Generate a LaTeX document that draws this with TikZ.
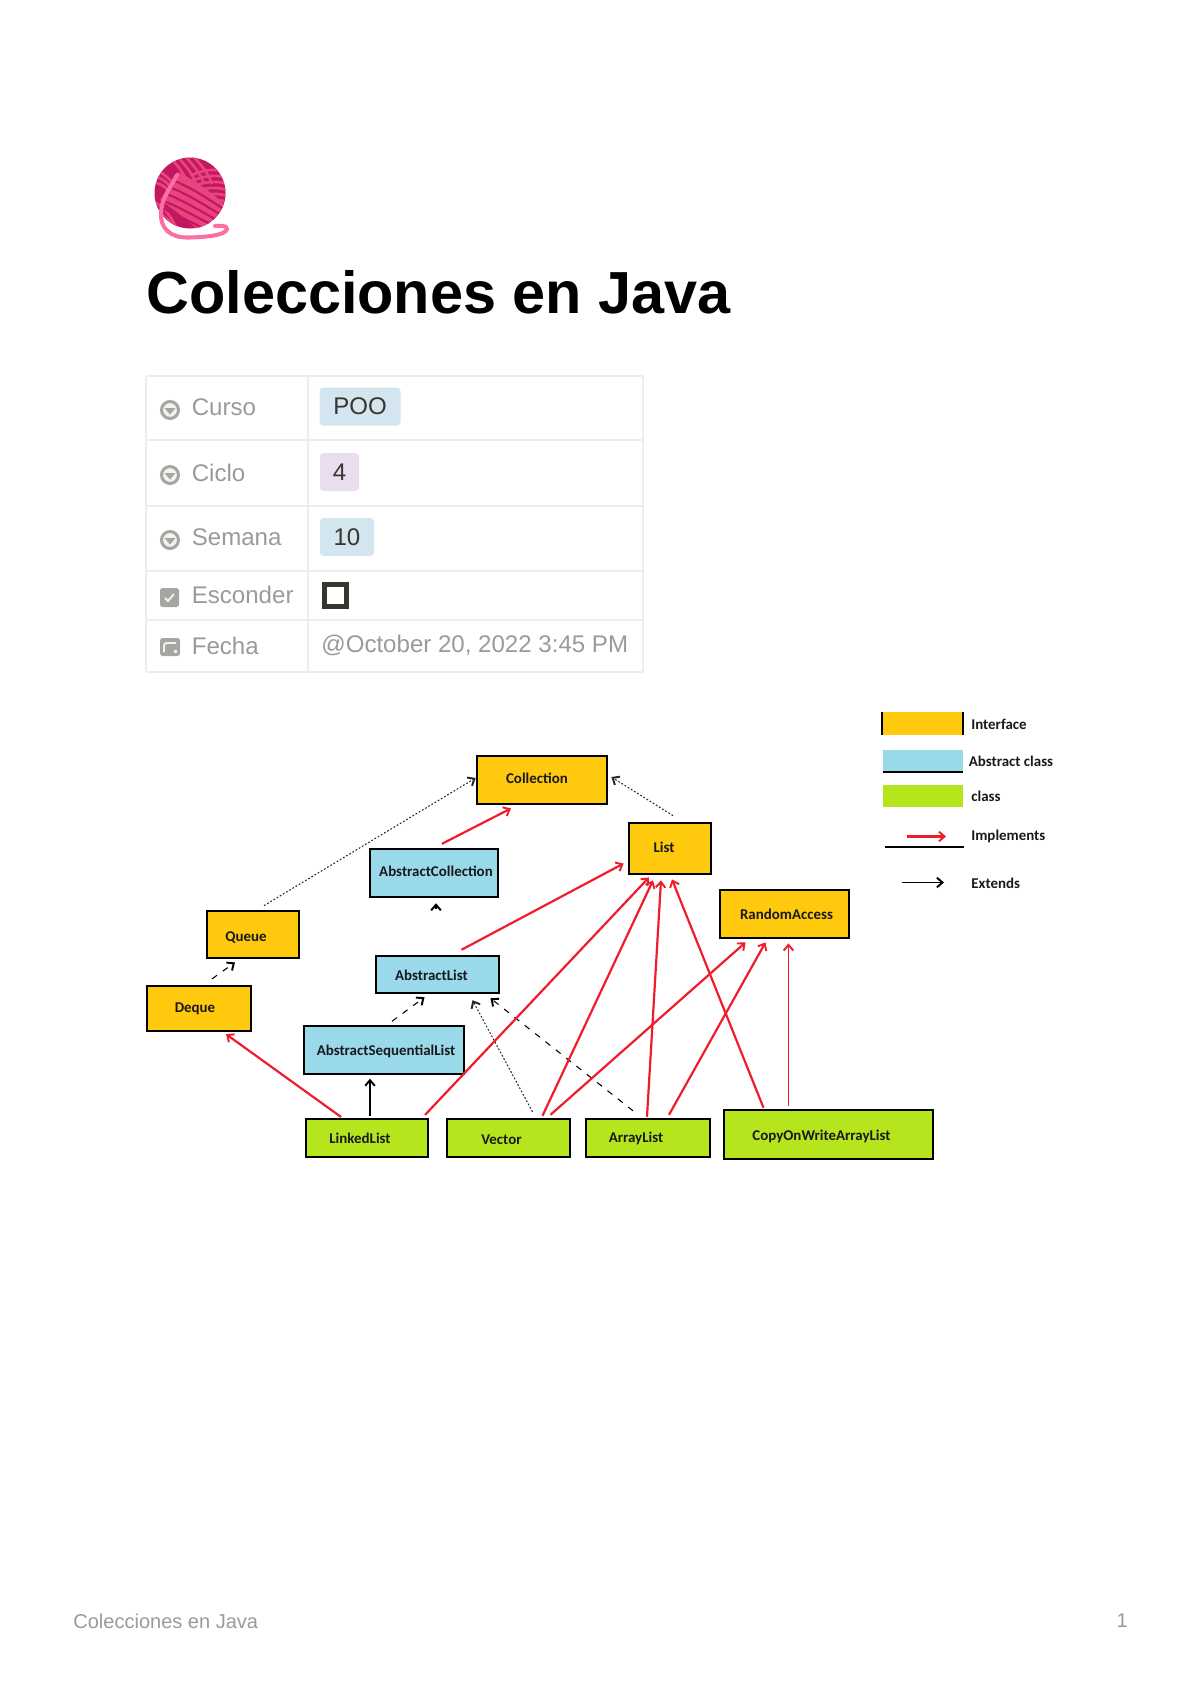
\documentclass[tikz,border=0pt]{standalone}
\usepackage{fontspec}
\setmainfont{Liberation Sans}
\newfontfamily\carlito{Carlito}
\usepackage{tikz}
\usetikzlibrary{calc,arrows.meta}
\newlength\pxu
\setlength\pxu{0.569pt}
\newcommand{\nudgedtext}[2]{\raisebox{#1\pxu}[\height][\depth]{#2}}
\definecolor{ifaceorange}{HTML}{FFC90E}
\definecolor{absblue}{HTML}{99D9EA}
\definecolor{classgreen}{HTML}{B5E61D}
\definecolor{implred}{HTML}{F01C2C}
\definecolor{tablegray}{HTML}{EDEDEB}
\definecolor{textgray}{HTML}{9B9A97}
\definecolor{icongray}{HTML}{A6A5A1}
\definecolor{pillblue}{HTML}{D3E5EF}
\definecolor{pillpurple}{HTML}{E8DEEE}
\definecolor{inkblack}{HTML}{37352F}
\definecolor{yarnbase}{HTML}{C2185F}
\definecolor{yarnmid}{HTML}{E8447F}
\definecolor{yarnlight}{HTML}{FB6FA2}
\tikzset{
  sized/.style 2 args={minimum width=#1*0.02cm, minimum height=#2*0.02cm, inner sep=0pt},
  classbox/.style={draw=black, font=\carlito\bfseries\fontsize{8.5}{10}\selectfont, text=black!90},
  ifacebox/.style={classbox, fill=ifaceorange, line width=1.6pt},
  absbox/.style={classbox, fill=absblue, line width=1pt},
  concbox/.style={classbox, fill=classgreen, line width=1.2pt},
  legendtext/.style={anchor=west, inner sep=0pt, font=\carlito\bfseries\fontsize{8.5}{10}\selectfont, text=black!90},
  tip/.style={-{Straight Barb[length=3.2pt,width=5.5pt,line width=1.1pt]}},
  implements/.style={tip, draw=implred, line width=1.25pt},
  extends/.style={tip, draw=black, line width=.7pt},
  extendsdash/.style={extends, line width=.6pt, dash pattern=on 3.5pt off 4pt},
  extendsdot/.style={extends, line width=.6pt, draw=black!85, dash pattern=on 1pt off 1.1pt},
  rowlabel/.style={anchor=west, inner sep=0pt, text=textgray, font=\fontsize{13.7}{16}\selectfont},
  pill/.style={rounded corners=2pt, inner sep=0pt, text=inkblack, font=\fontsize{13.7}{16}\selectfont},
  tablerule/.style={draw=tablegray, line width=1pt},
  selecticon/.style={draw=icongray, fill=white!85!icongray, line width=1.7pt},
  strand/.style={draw=yarnmid, line width=1.5pt}
}
\begin{document}
\begin{tikzpicture}[x=0.02cm,y=-0.02cm]
  \useasboundingbox (0,0) rectangle (1200,1698);
  % yarn ball
  \fill[yarnbase] (190,193) circle (35.5);
  \begin{scope}
    \clip (190,193) circle (35.5);
    \foreach \d in {0,6,...,30}
      \draw[strand] (192,175+\d) .. controls (203,170+\d) and (215,168+\d) .. (228,172+\d);
    \foreach \d in {0,8,16,24}
      \draw[strand] (168+\d,155) .. controls (176+\d,164) and (184+\d,172) .. (188+\d,184);
    \foreach \d in {0,6,12}
      \draw[strand] (154,170+\d) .. controls (162,172+\d) and (170,178+\d) .. (174,186+\d);
    \foreach \d in {0,8,16}
      \draw[strand] (150,200+\d) .. controls (160,204+\d) and (170,212+\d) .. (178,232);
    \fill[yarnmid] (178,172) .. controls (195,180) and (215,195) .. (226,206)
      -- (200,232) .. controls (190,222) and (175,210) .. (160,200) -- cycle;
    \foreach \d in {0,7,14,21,28}
      \draw[yarnbase, line width=1.2pt] (172-\d/2.5,180+\d) .. controls (188-\d/2.5,186+\d) and (204-\d/2.5,196+\d) .. (222-\d/2.5,208+\d/1.2);
  \end{scope}
  \draw[yarnlight, line width=2.3pt, line cap=round]
    (177,175) .. controls (170,188) and (161,200) .. (161,213)
    .. controls (160,228) and (170,237.5) .. (187,237.5)
    .. controls (200,237.5) and (226,236) .. (227,229)
    .. controls (227,225) and (220,226) .. (215,226);
  % title
  \node[anchor=base west, inner sep=0pt, font=\bfseries\fontsize{33.8}{40}\selectfont] (title) at (146,313) {Colecciones en Java};
  % property table
  \foreach \y in {376,440,506,571,620,672}
    \draw[tablerule] (146,\y) -- (643,\y);
  \foreach \x in {146,308,643}
    \draw[tablerule] (\x,376) -- (\x,672);
  \foreach \y/\name in {408/Curso,473/Ciclo,538/Semana,595/Esconder,646/Fecha}
    \node[rowlabel] (lbl\name) at (191.5,\y-.5) {\name};
  \foreach \y in {410,475,540} {
    \draw[selecticon] (170,\y) circle (8.5);
    \fill[icongray] (164.5,\y-2) -- (175.5,\y-2) -- (170,\y+4.5) -- cycle;
  }
  \fill[icongray, rounded corners=1.5pt] (160,588) rectangle (179,607);
  \draw[white!85!icongray, line width=1.1pt] (165,598) -- (168,601) -- (174,594);
  \fill[icongray, rounded corners=1.5pt] (160,638) rectangle (180,656);
  \draw[white!85!icongray, line width=1.1pt] (164,652) -- (164,646) .. controls (164,644) and (165,643) .. (167,643) -- (176,643);
  \fill[white!85!icongray] (174,650) rectangle (177,653);
  \node[pill, fill=pillblue, sized={81}{38}] (curso) at (360,406.5) {POO};
  \node[pill, fill=pillpurple, sized={39}{38}] (ciclo) at (339.5,472) {4};
  \node[pill, fill=pillblue, sized={54}{38}] (semana) at (347,537) {10};
  \node[draw=inkblack, line width=2.5pt, sized={22}{22}] (esconder) at (335.5,595.5) {};
  \node[rowlabel] (fecha) at (321,645.5) {@October 20, 2022 3:45 PM};
  % class diagram
  \node[ifacebox, sized={130}{48}] (Collection) at (542,780) {\nudgedtext{2}{Collection\kern10\pxu}};
  \node[absbox, line width=1.4pt, sized={128}{48}] (AbstractCollection) at (434,873) {\nudgedtext{2}{\kern4\pxu AbstractCollection}};
  \node[ifacebox, sized={92}{47}] (Queue) at (253,934.5) {\nudgedtext{-3}{Queue\kern14\pxu}};
  \node[absbox, line width=1.4pt, sized={123}{37}] (AbstractList) at (437.5,974.5) {\nudgedtext{-1}{AbstractList\kern12\pxu}};
  \node[ifacebox, line width=1.3pt, sized={104}{45}] (Deque) at (199,1008.5) {Deque\kern8\pxu};
  \node[absbox, line width=.8pt, sized={160}{48}] (AbstractSequentialList) at (384,1050) {\nudgedtext{-1}{\kern4\pxu AbstractSequentialList}};
  \node[concbox, sized={122}{38}] (LinkedList) at (367,1138) {LinkedList\kern14\pxu};
  \node[concbox, line width=1.4pt, sized={123}{38}] (Vector) at (508.5,1138) {\nudgedtext{-2}{Vector\kern14\pxu}};
  \node[concbox, line width=1.4pt, sized={124}{38}] (ArrayList) at (648,1138) {ArrayList\kern24\pxu};
  \node[concbox, line width=1.4pt, sized={209}{49}] (CopyOnWriteArrayList) at (828.5,1134.5) {\nudgedtext{-2}{CopyOnWriteArrayList\kern14\pxu}};
  \node[ifacebox, sized={82}{51}] (List) at (670,848.5) {\nudgedtext{1}{List\kern12\pxu}};
  \node[ifacebox, sized={129}{48}] (RandomAccess) at (784.5,914) {\kern4\pxu RandomAccess};
  % extends
  \draw[extendsdot] ($(Queue.north)+(11,-4)$) -- ($(Collection.west)+(0,-2)$);
  \draw[extendsdot] ($(List.north)+(3,-6)$) -- ($(Collection.east)+(3,-3)$);
  \draw[extendsdash] ($(Deque.north)+(13,-6)$) -- ($(Queue.south)+(-18,3)$);
  \draw[extendsdash] ($(AbstractSequentialList.north)+(8,-4)$) -- ($(AbstractList.south)+(-13,3)$);
  \draw[extends] ($(AbstractCollection.south)+(2,11)$) -- ($(AbstractCollection.south)+(2,5)$);
  \draw[extends] ($(LinkedList.north)+(3,-2)$) -- ($(AbstractSequentialList.south)+(-14,4)$);
  \draw[extendsdot] ($(Vector.north)+(24,-6)$) -- ($(AbstractList.south)+(35,6)$);
  \draw[extendsdash] ($(ArrayList.north)+(-15,-7)$) -- ($(AbstractList.south)+(53,4)$);
  % implements
  \draw[implements] ($(AbstractCollection.north)+(8,-4)$) -- ($(Collection.south)+(-31,3)$);
  \draw[implements] ($(AbstractList.north)+(24,-5)$) -- ($(List.west)+(-4,15)$);
  \draw[implements] ($(LinkedList.north)+(-26,-1)$) -- ($(Deque.south)+(27,2)$);
  \draw[implements] ($(LinkedList.north)+(58,-3)$) -- ($(List.south)+(-21,2)$);
  \draw[implements] ($(Vector.north)+(34,-2)$) -- ($(List.south)+(-17,5)$);
  \draw[implements] ($(Vector.north)+(42,-3)$) -- ($(RandomAccess.south)+(-39,3)$);
  \draw[implements] ($(ArrayList.north)+(-1,-1)$) -- ($(List.south)+(-9,5)$);
  \draw[implements] ($(ArrayList.north)+(21,-3)$) -- ($(RandomAccess.south)+(-19,3)$);
  \draw[implements] ($(CopyOnWriteArrayList.north)+(-65,-1)$) -- ($(List.south)+(2,4)$);
  \draw[implements, line width=.8pt] ($(CopyOnWriteArrayList.north)+(-40,-3)$) -- ($(RandomAccess.south)+(4,4)$);
  % legend
  \node[fill=ifaceorange, sized={81}{23}] (keyInterface) at (922.5,723.5) {};
  \draw[line width=1pt] (keyInterface.north west) -- (keyInterface.south west);
  \draw[line width=1pt] (keyInterface.north east) -- (keyInterface.south east);
  \node[fill=absblue, sized={80}{22}] (keyAbstract) at (923,761) {};
  \draw[line width=1pt] (keyAbstract.south west) -- (keyAbstract.south east);
  \node[fill=classgreen, sized={80}{22}] (keyClass) at (923,796) {};
  \node[legendtext] (txtInterface) at (971,724.5) {Interface};
  \node[legendtext] (txtAbstract) at (968.5,761.5) {Abstract class};
  \node[legendtext] (txtClass) at (971,796) {class};
  \node[legendtext] (txtImplements) at (971,836.5) {Implements};
  \node[legendtext] (txtExtends) at (971,883) {Extends};
  \coordinate (implFrom) at (907,836.5);
  \coordinate (implTo) at (946,836.5);
  \coordinate (ruleFrom) at (885,847);
  \coordinate (ruleTo) at (964,847);
  \coordinate (extFrom) at (902,882.5);
  \coordinate (extTo) at (944,882.5);
  \draw[implements] (implFrom) -- (implTo);
  \draw[line width=.7pt] (ruleFrom) -- (ruleTo);
  \draw[extends] (extFrom) -- (extTo);
  % footer
  \node[anchor=west, inner sep=0pt, text=textgray, font=\fontsize{11.4}{14}\selectfont] (footleft) at (73,1621) {Colecciones en Java};
  \node[anchor=east, inner sep=0pt, text=textgray, font=\fontsize{11.4}{14}\selectfont] (footright) at (1128,1621) {1};
\end{tikzpicture}
\end{document}
